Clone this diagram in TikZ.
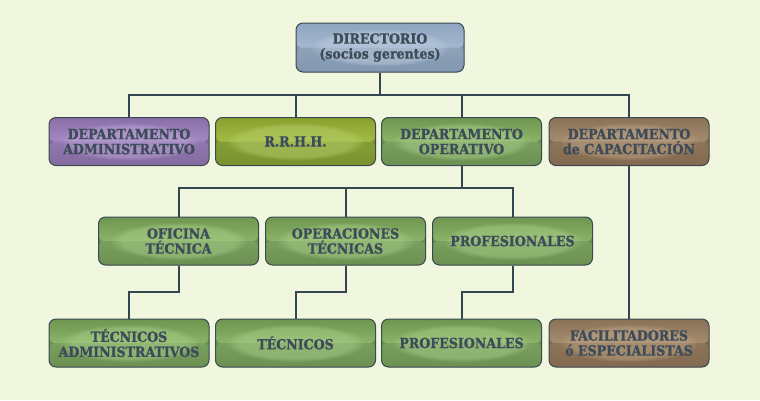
\documentclass[tikz,border=0pt]{standalone}
\usepackage{fontspec}
\setmainfont{DejaVu Serif Condensed}[BoldFeatures={FakeBold=1.2}]
\usetikzlibrary{fadings}
\definecolor{bg}{HTML}{F1F6DE}
\definecolor{bord}{HTML}{3A4A52}
\definecolor{wire}{HTML}{34464F}
\definecolor{txt}{HTML}{3E4C5A}
\begin{document}
\begin{tikzpicture}[x=1pt,y=-1pt,
  base/.style={rounded corners=7pt, draw=bord, line width=1pt,
    minimum width=160pt, minimum height=48pt, inner sep=0pt, align=center,
    text=txt, font=\bfseries\fontsize{14}{15}\selectfont},
  grad/.style n args={5}{fill=#4, path picture={
    \shade[top color=#1,bottom color=#2] (path picture bounding box.north west) rectangle ([yshift=-0.6pt]path picture bounding box.east);
    \shade[top color=#3,bottom color=#4] (path picture bounding box.west) rectangle (path picture bounding box.south east);
    \fill[#5, opacity=0.45, path fading=circle with fuzzy edge 20 percent] (path picture bounding box.center) ellipse (70pt and 19pt);}},
  blue/.style={base,grad={cA1}{cA2}{cA3}{cA4}{cA5}},
  purple/.style={base,grad={cB1}{cB2}{cB3}{cB4}{cB5}},
  olive/.style={base,grad={cC1}{cC2}{cC3}{cC4}{cC5}},
  green/.style={base,grad={cD1}{cD2}{cD3}{cD4}{cD5}},
  brown/.style={base,grad={cE1}{cE2}{cE3}{cE4}{cE5}},
  conn/.style={draw=wire, line width=2pt}
]
\definecolor{cA1}{HTML}{8FA6C0}\definecolor{cA2}{HTML}{B8CADE}\definecolor{cA3}{HTML}{8EA2B9}\definecolor{cA4}{HTML}{8298B0}\definecolor{cA5}{HTML}{C0D0E2}
\definecolor{cB1}{HTML}{8A6EA8}\definecolor{cB2}{HTML}{BBA2DA}\definecolor{cB3}{HTML}{9078B0}\definecolor{cB4}{HTML}{84699F}\definecolor{cB5}{HTML}{C2ACDC}
\definecolor{cC1}{HTML}{8AA02E}\definecolor{cC2}{HTML}{BCD65A}\definecolor{cC3}{HTML}{849E36}\definecolor{cC4}{HTML}{7A922F}\definecolor{cC5}{HTML}{BCD470}
\definecolor{cD1}{HTML}{6E9650}\definecolor{cD2}{HTML}{A8D282}\definecolor{cD3}{HTML}{78A05E}\definecolor{cD4}{HTML}{6C9052}\definecolor{cD5}{HTML}{AED48E}
\definecolor{cE1}{HTML}{8A7258}\definecolor{cE2}{HTML}{C2A684}\definecolor{cE3}{HTML}{8E7458}\definecolor{cE4}{HTML}{826A50}\definecolor{cE5}{HTML}{C4AA8A}
\fill[bg] (0,0) rectangle (760,400);
\useasboundingbox (0,0) rectangle (760,400);
% boxes
\node[blue, minimum width=168pt, minimum height=49pt] (dir) at (380,47.5) {DIRECTORIO\\(socios gerentes)};
\node[purple] (adm) at (129,141.5) {DEPARTAMENTO\\ADMINISTRATIVO};
\node[olive] (rrhh) at (295.5,141.5) {R.R.H.H.};
\node[green] (ope) at (461.5,141.5) {DEPARTAMENTO\\OPERATIVO};
\node[brown] (cap) at (629,141.5) {DEPARTAMENTO\\de CAPACITACIÓN};
\node[green] (ofi) at (178.5,241) {OFICINA\\TÉCNICA};
\node[green] (opt) at (345.5,241) {OPERACIONES\\TÉCNICAS};
\node[green] (pro) at (512.5,241) {PROFESIONALES};
\node[green] (tad) at (129,343) {TÉCNICOS\\ADMINISTRATIVOS};
\node[green] (tec) at (295.5,343) {TÉCNICOS};
\node[green] (pr2) at (461.5,343) {PROFESIONALES};
\node[brown] (fac) at (629,343) {FACILITADORES\\ó ESPECIALISTAS};
% wires
\coordinate (b1) at ([yshift=-22pt]dir.south);
\coordinate (b2) at ([yshift=-22pt]ope.south);
\draw[conn] (dir.south) -- (b1);
\draw[conn] (adm.north) |- (b1) -| (cap.north);
\draw[conn] (rrhh.north) -- (rrhh.north |- b1);
\draw[conn] (ope.north) -- (ope.north |- b1);
\draw[conn] (ope.south) -- (b2);
\draw[conn] (ofi.north) |- (b2) -| (pro.north);
\draw[conn] (opt.north) -- (opt.north |- b2);
\draw[conn] (ofi.south) -- ++(0,26) -| (tad.north);
\draw[conn] (opt.south) -- ++(0,26) -| (tec.north);
\draw[conn] (pro.south) -- ++(0,26) -| (pr2.north);
\draw[conn] (cap.south) -- (fac.north);
\end{tikzpicture}
\end{document}
